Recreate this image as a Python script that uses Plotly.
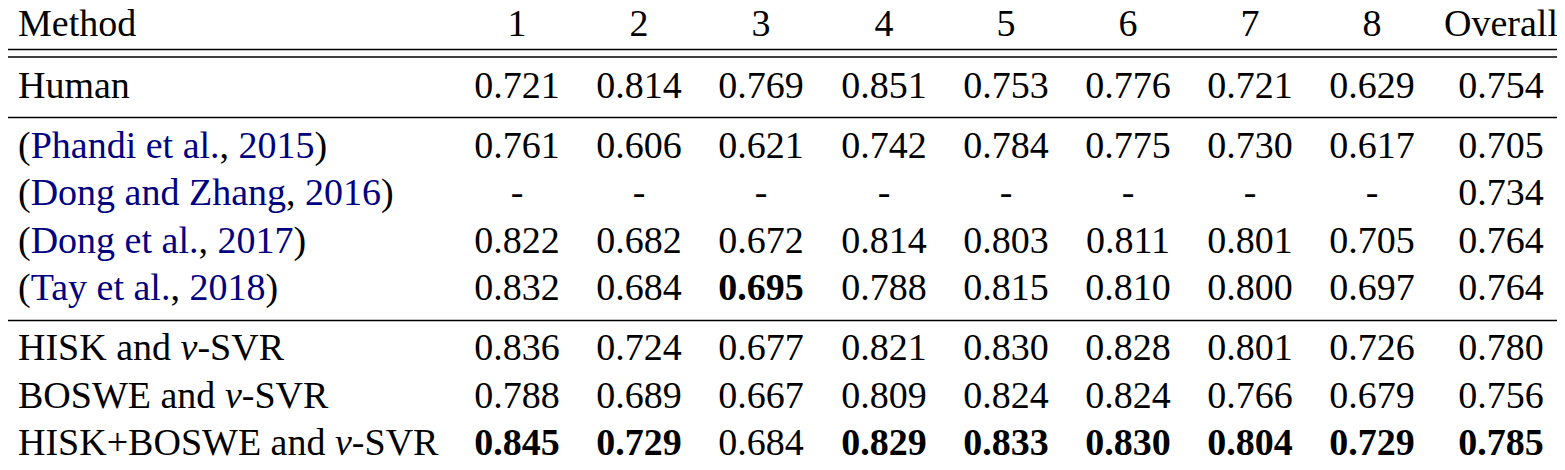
import plotly.graph_objects as go

# column headers (essay prompts) and table rows
columns = ["1", "2", "3", "4", "5", "6", "7", "8", "Overall"]

human = [0.721, 0.814, 0.769, 0.851, 0.753, 0.776, 0.721, 0.629, 0.754]
phandi = [0.761, 0.606, 0.621, 0.742, 0.784, 0.775, 0.730, 0.617, 0.705]
dong_zhang = [None, None, None, None, None, None, None, None, 0.734]
dong = [0.822, 0.682, 0.672, 0.814, 0.803, 0.811, 0.801, 0.705, 0.764]
tay = [0.832, 0.684, 0.695, 0.788, 0.815, 0.810, 0.800, 0.697, 0.764]
hisk = [0.836, 0.724, 0.677, 0.821, 0.830, 0.828, 0.801, 0.726, 0.780]
boswe = [0.788, 0.689, 0.667, 0.809, 0.824, 0.824, 0.766, 0.679, 0.756]
hisk_boswe = [0.845, 0.729, 0.684, 0.829, 0.833, 0.830, 0.804, 0.729, 0.785]

# (label, citation year or None, scores)
rows = [
    ("Human", None, human),
    ("Phandi et al.", "2015", phandi),
    ("Dong and Zhang", "2016", dong_zhang),
    ("Dong et al.", "2017", dong),
    ("Tay et al.", "2018", tay),
    ("HISK and <i>ν</i>-SVR", None, hisk),
    ("BOSWE and <i>ν</i>-SVR", None, boswe),
    ("HISK+BOSWE and <i>ν</i>-SVR", None, hisk_boswe),
]

# layout (pixel coordinates of the table grid)
W, H = 1565, 470
COL_X = [509, 631, 753, 876, 998, 1120, 1242, 1364, 1493]
METHOD_X = 10
HEADER_Y = 18.5
ROW_Y = [80, 140, 187.5, 235, 282.5, 342.5, 390, 437.5]
RULES = [(41.5, 1.5), (49, 1.5), (109.5, 1.3), (312.5, 1.3), (467, 1.6)]
FONT = "Liberation Serif, Times New Roman, serif"
SIZE = 38
CITE = "#000080"

# best system score per column (Human excluded) is bold
best = []
for j in range(len(columns)):
    vals = [r[2][j] for r in rows[1:] if r[2][j] is not None]
    best.append(max(vals))


def method_label(name, year):
    if year is None:
        return name
    return (f"(<span style='color:{CITE}'>{name}</span>, "
            f"<span style='color:{CITE}'>{year}</span>)")


fig = go.Figure()

# header
fig.add_trace(go.Scatter(
    x=[METHOD_X] + COL_X,
    y=[HEADER_Y] * (len(columns) + 1),
    text=["Method"] + columns,
    mode="text",
    textposition=["middle right"] + ["middle center"] * len(columns),
    textfont=dict(family=FONT, size=SIZE, color="black"),
    hoverinfo="skip",
    cliponaxis=False,
))

# method names
fig.add_trace(go.Scatter(
    x=[METHOD_X] * len(rows),
    y=ROW_Y,
    text=[method_label(r[0], r[1]) for r in rows],
    mode="text",
    textposition="middle right",
    textfont=dict(family=FONT, size=SIZE, color="black"),
    hoverinfo="skip",
))

# scores
xs, ys, txt = [], [], []
for i, (name, year, scores) in enumerate(rows):
    for j, v in enumerate(scores):
        xs.append(COL_X[j])
        ys.append(ROW_Y[i])
        if v is None:
            txt.append("-")
        elif i > 0 and v == best[j]:
            txt.append(f"<b>{v:.3f}</b>")
        else:
            txt.append(f"{v:.3f}")

fig.add_trace(go.Scatter(
    x=xs, y=ys, text=txt,
    mode="text",
    textposition="middle center",
    textfont=dict(family=FONT, size=SIZE, color="black"),
    hoverinfo="skip",
))

for y, w in RULES:
    fig.add_shape(type="line", xref="paper", yref="y",
                  x0=0, x1=1, y0=y, y1=y,
                  line=dict(color="black", width=w))

fig.update_layout(
    width=W, height=H,
    margin=dict(l=0, r=0, t=0, b=0),
    paper_bgcolor="white", plot_bgcolor="white",
    showlegend=False,
    xaxis=dict(range=[0, W], visible=False, fixedrange=True),
    yaxis=dict(range=[H, 0], visible=False, fixedrange=True),
)

fig.write_html("out.html")
